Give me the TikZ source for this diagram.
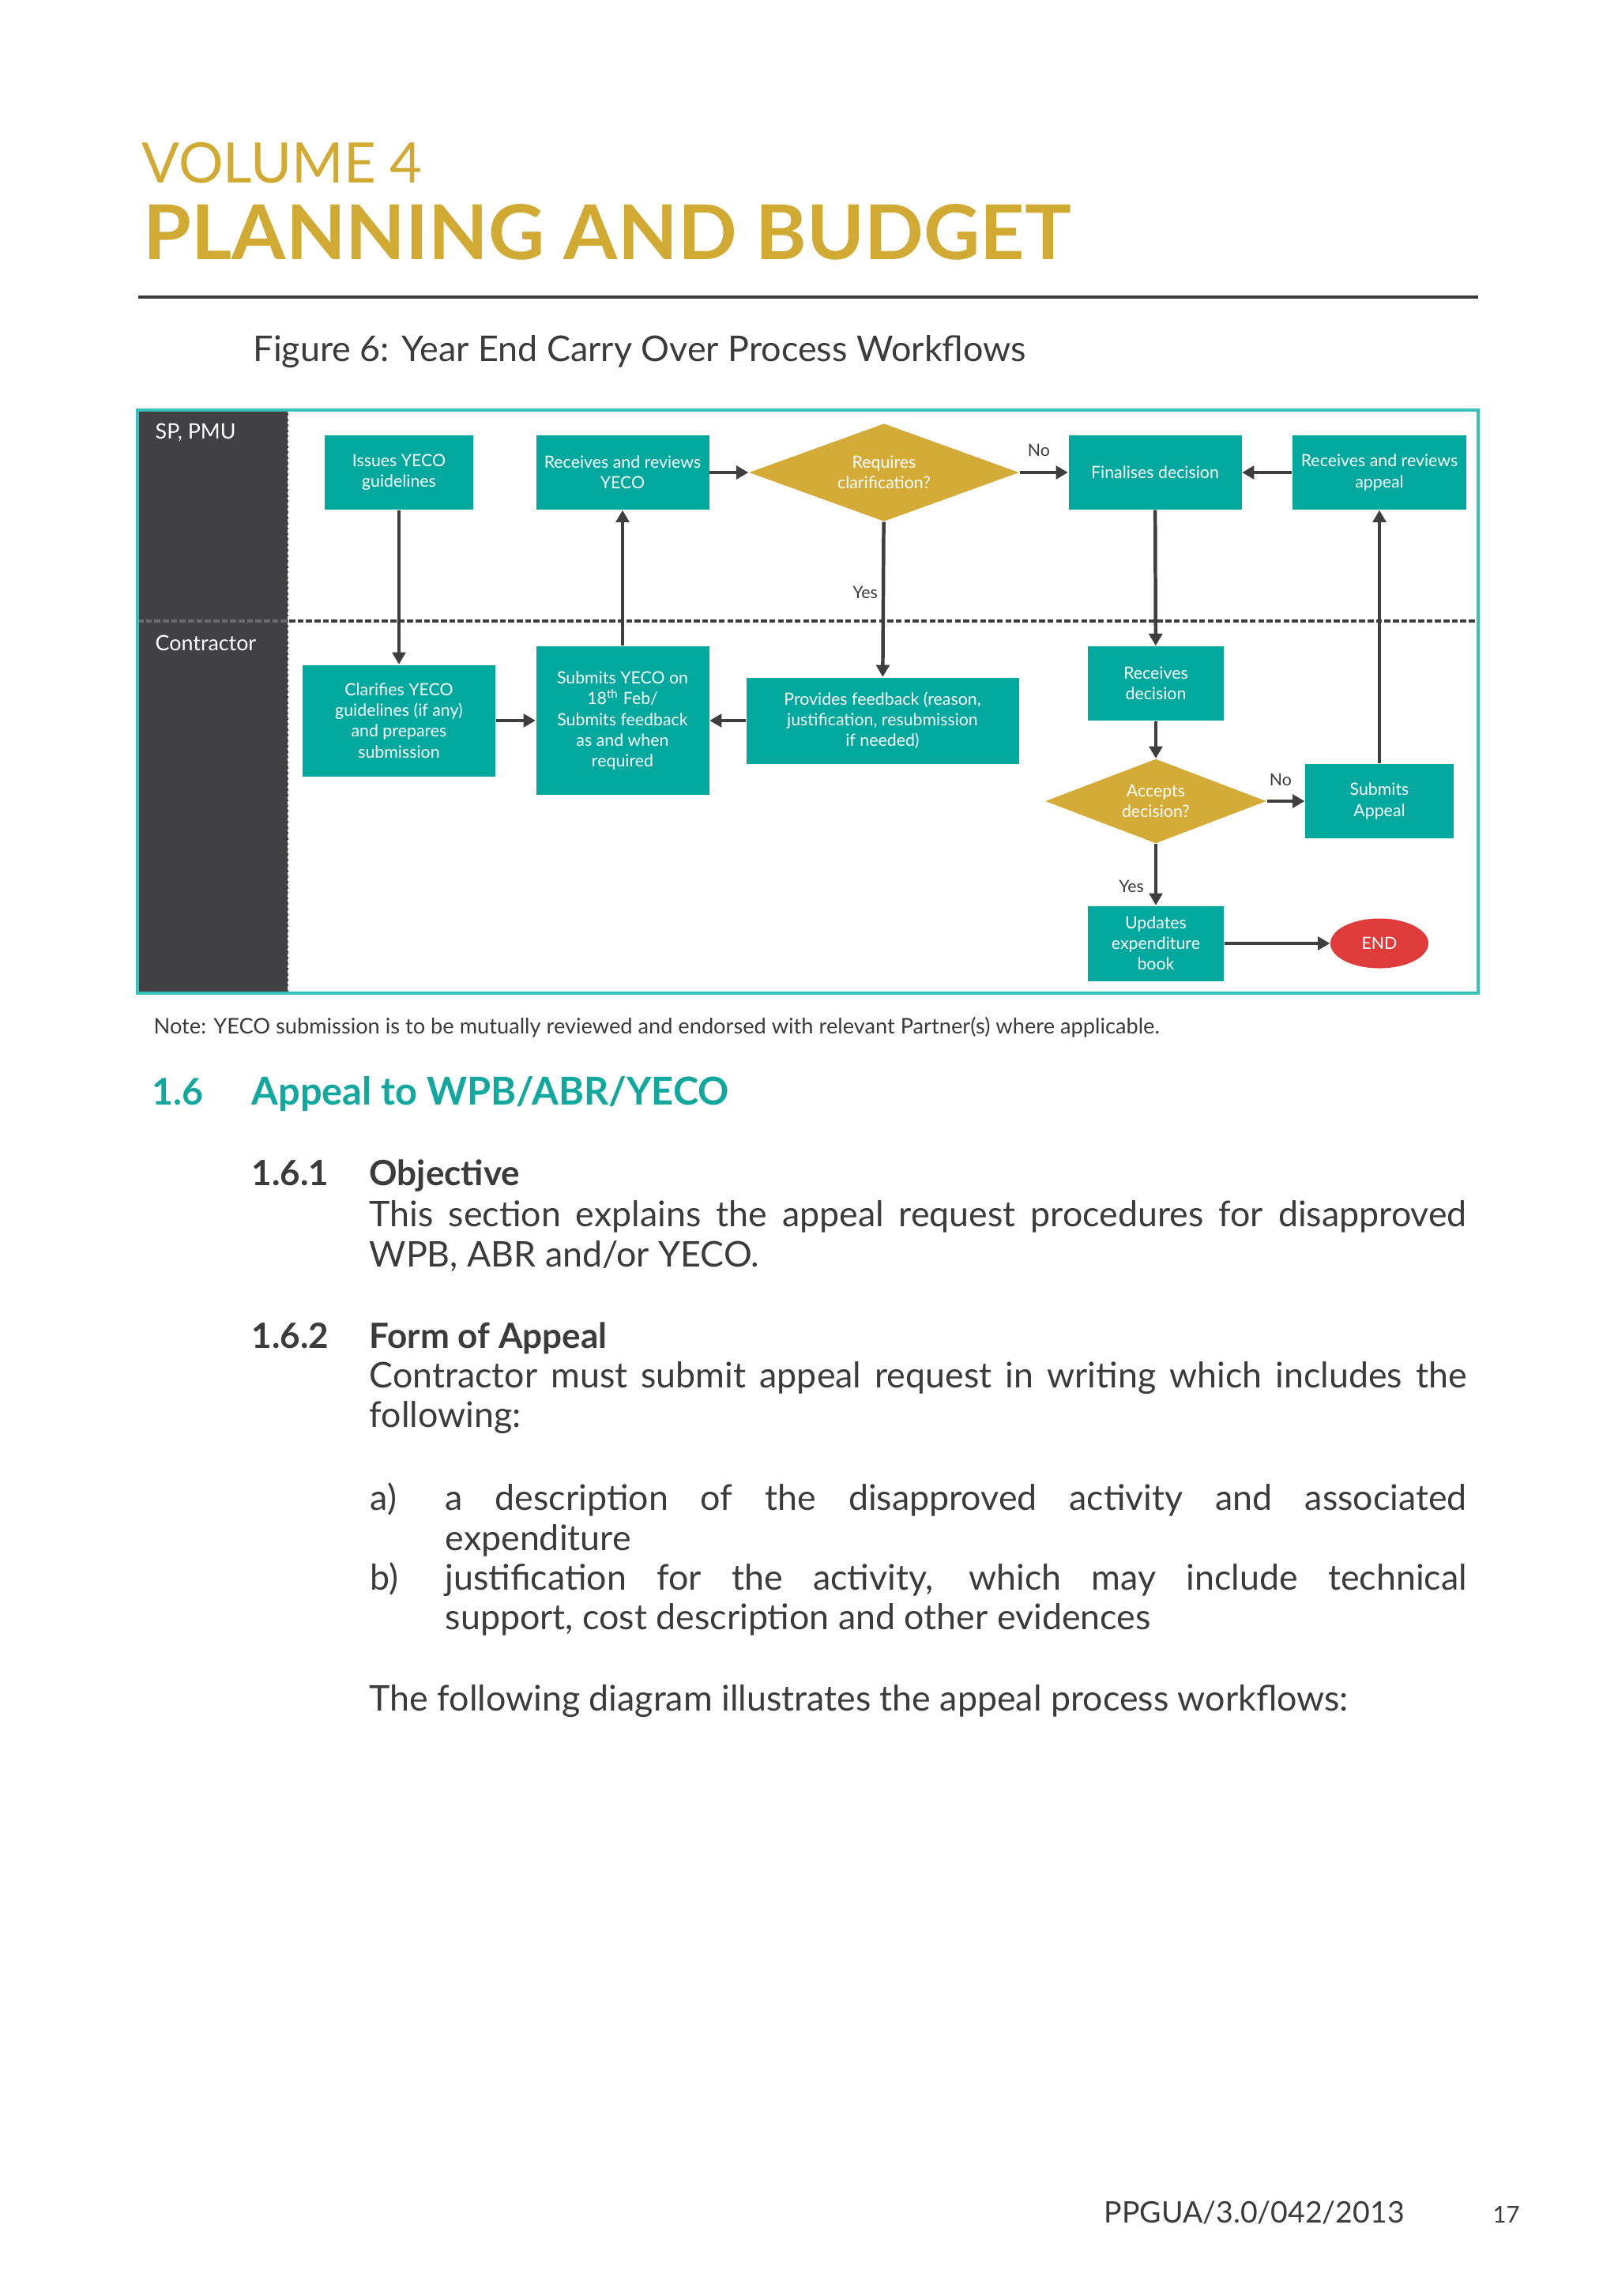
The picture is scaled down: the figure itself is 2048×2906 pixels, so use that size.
\documentclass[tikz,border=0pt]{standalone}
\usepackage{fontspec}
\setmainfont{Lato}
\usepackage{graphicx}
\usetikzlibrary{shapes.geometric,arrows.meta}
\definecolor{tealbox}{HTML}{00A89D}
\definecolor{tealframe}{HTML}{35C2BA}
\definecolor{tealhead}{HTML}{12A89D}
\definecolor{goldd}{HTML}{D3AB36}
\definecolor{goldtitle}{HTML}{D1AA33}
\definecolor{panel}{HTML}{414042}
\definecolor{arrowc}{HTML}{3E3E3F}
\definecolor{endred}{HTML}{E03B3B}
\definecolor{bodyc}{HTML}{3B3B3C}
\newdimen\unitpx \unitpx=0.29066pt
\newcommand\boxfont{\fontsize{6.2}{7.6}\selectfont}
\newcommand\bodyfont{\fontsize{13}{15}\selectfont}
\newcommand\headfont{\fontsize{12.8}{15}\selectfont\bfseries}
\tikzset{
 pbox/.style={rectangle, fill=tealbox, text=white, inner sep=0pt, align=center, font=\boxfont},
 dec/.style={diamond, fill=goldd, text=white, inner sep=0pt, align=center, font=\boxfont},
 flow/.style={draw=arrowc, line width=1.3pt, -{Triangle[length=4.4pt,width=4.8pt]}},
 lbl/.style={font=\boxfont, text=bodyc, inner sep=0pt},
 txt/.style={anchor=base west, inner sep=0pt, text=bodyc},
}
\begin{document}
\begin{tikzpicture}[x=0.29066pt,y=-0.29066pt]
\fill[white] (0,0) rectangle (2048,2906);
\useasboundingbox (0,0) rectangle (2048,2906);

% header
\node[txt, text=goldtitle] (vol) at (179,231) {\resizebox{355\unitpx}{!}{VOLUME 4}};
\node[txt, text=goldtitle] (plan) at (181,328) {\resizebox{1174\unitpx}{70\unitpx}{\textbf{PLANNING AND BUDGET}}};
\draw[line width=0.9pt, draw=bodyc] (175,376) -- (1871,376);
\node[txt] (cap) at (320,457) {\resizebox{978\unitpx}{!}{Figure 6: Year End Carry Over Process Workflows}};

% swimlane frame
\fill[white] (174,519) rectangle (1871,1257);
\fill[panel] (174,519) rectangle (365,1257);
\draw[white, line width=0.6pt, dash pattern=on 1.2pt off 0.8pt] (365,519) -- (365,1257);
\draw[gray!70!panel, line width=1.2pt, dash pattern=on 2.2pt off 0.9pt] (174,786) -- (365,786);
\draw[arrowc, line width=1.3pt, dash pattern=on 2.2pt off 0.9pt] (366,786) -- (1871,786);
\draw[tealframe, line width=0.9pt] (174,519) rectangle (1871,1257);
\node[anchor=base west, inner sep=0pt, text=white, font=\fontsize{7.8}{9}\selectfont] (lane1) at (196,555) {SP, PMU};
\node[anchor=base west, inner sep=0pt, text=white, font=\fontsize{7.8}{9}\selectfont] (lane2) at (196,823) {Contractor};

% nodes
\node[pbox, minimum width=188\unitpx, minimum height=94\unitpx] (issues) at (505,598) {Issues YECO\\guidelines};
\node[pbox, minimum width=219\unitpx, minimum height=94\unitpx] (recv) at (788,598) {Receives and reviews\\YECO};
\node[dec, aspect=2.76, minimum width=342\unitpx, minimum height=124\unitpx] (d1) at (1119,598) {Requires\\clarification?};
\node[pbox, minimum width=219\unitpx, minimum height=94\unitpx] (final) at (1462,598) {Finalises decision};
\node[pbox, minimum width=220\unitpx, minimum height=94\unitpx] (apprev) at (1746,598) {Receives and reviews\\appeal};
\node[pbox, minimum width=244\unitpx, minimum height=141\unitpx] (clarify) at (505,912) {Clarifies YECO\\guidelines (if any)\\and prepares\\submission};
\node[pbox, minimum width=219\unitpx, minimum height=188\unitpx] (submit) at (788,912) {Submits YECO on\\18\textsuperscript{th} Feb/\\Submits feedback\\as and when\\required};
\node[pbox, minimum width=345\unitpx, minimum height=109\unitpx] (provide) at (1117,912) {Provides feedback (reason,\\justification, resubmission\\if needed)};
\node[pbox, minimum width=172\unitpx, minimum height=94\unitpx] (recvdec) at (1463,865) {Receives\\decision};
\node[dec, aspect=2.62, minimum width=280\unitpx, minimum height=107\unitpx] (d2) at (1463,1014) {Accepts\\decision?};
\node[pbox, minimum width=188\unitpx, minimum height=94\unitpx] (subapp) at (1746,1014) {Submits\\Appeal};
\node[pbox, minimum width=172\unitpx, minimum height=95\unitpx] (update) at (1463,1194) {Updates\\expenditure\\book};
\node[ellipse, fill=endred, text=white, inner sep=0pt, font=\boxfont, minimum width=124\unitpx, minimum height=63\unitpx] (end) at (1746,1194) {END};

% connectors
\draw[flow] (issues) -- (clarify);
\draw[flow] (submit) -- (recv);
\draw[flow] (recv) -- (d1);
\draw[flow] (d1) -- (final);
\draw[flow] (d1) -- (provide);
\draw[flow] (provide) -- (submit);
\draw[flow] (clarify) -- (submit);
\draw[flow] (apprev) -- (final);
\draw[flow] (final) -- (recvdec);
\draw[flow] (recvdec) -- (d2);
\draw[flow] (d2) -- (subapp);
\draw[flow] (d2) -- (update);
\draw[flow] (update) -- (end);
\draw[flow] (subapp) -- (apprev);
\node[lbl] (no1) at (1315,570) {No};
\node[lbl] (yes1) at (1095,750) {Yes};
\node[lbl] (no2) at (1621,987) {No};
\node[lbl] (yes2) at (1432,1122) {Yes};

% text below
\node[txt] (note) at (194,1308) {\resizebox{1273\unitpx}{!}{Note: YECO submission is to be mutually reviewed and endorsed with relevant Partner(s) where applicable.}};
\node[txt, text=tealhead] (h16n) at (192,1398) {\resizebox{65\unitpx}{!}{\textbf{1.6}}};
\node[txt, text=tealhead] (h16) at (318,1398) {\resizebox{604\unitpx}{!}{\textbf{Appeal to WPB/ABR/YECO}}};

\node[txt, font=\headfont] (h161n) at (318,1500) {1.6.1};
\node[txt, font=\headfont] (h161) at (467,1500) {Objective};
\node[txt, font=\bodyfont] (p1a) at (467,1552) {\makebox[1389\unitpx][s]{This section explains the appeal request procedures for disapproved}};
\node[txt, font=\bodyfont] (p1b) at (467,1603) {WPB, ABR and/or YECO.};

\node[txt, font=\headfont] (h162n) at (318,1706) {1.6.2};
\node[txt, font=\headfont] (h162) at (467,1706) {Form of Appeal};
\node[txt, font=\bodyfont] (p2a) at (467,1756) {\makebox[1389\unitpx][s]{Contractor must submit appeal request in writing which includes the}};
\node[txt, font=\bodyfont] (p2b) at (467,1806) {following:};

\node[txt, font=\bodyfont] (ia) at (468,1911) {a)};
\node[txt, font=\bodyfont] (ia1) at (563,1911) {\makebox[1293\unitpx][s]{a description of the disapproved activity and associated}};
\node[txt, font=\bodyfont] (ia2) at (563,1962) {expenditure};
\node[txt, font=\bodyfont] (ib) at (468,2012) {b)};
\node[txt, font=\bodyfont] (ib1) at (563,2012) {\makebox[1293\unitpx][s]{justification for the activity, which may include technical}};
\node[txt, font=\bodyfont] (ib2) at (563,2062) {support, cost description and other evidences};

\node[txt, font=\bodyfont] (p3) at (467,2165) {The following diagram illustrates the appeal process workflows:};

% footer
\node[txt] (foot) at (1397,2813) {\resizebox{380\unitpx}{!}{PPGUA/3.0/042/2013}};
\node[txt] (pg) at (1889,2813) {\resizebox{34\unitpx}{!}{17}};
\end{tikzpicture}
\end{document}
